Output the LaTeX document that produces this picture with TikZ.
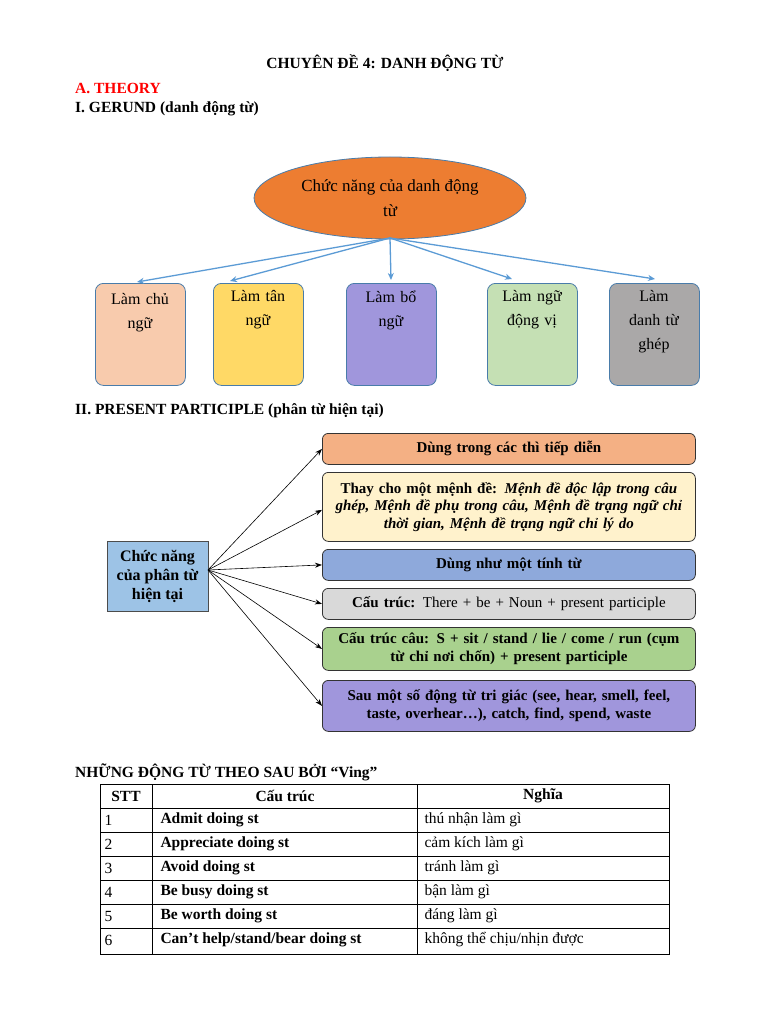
\documentclass[tikz,border=0pt]{standalone}
\usepackage{fontspec}
\setmainfont{Liberation Serif}
\usetikzlibrary{shapes.geometric,arrows.meta}
\definecolor{oran}{HTML}{ED7D31}
\definecolor{bl}{HTML}{5B9BD5}
\tikzset{
 gbox/.style={draw=bl!80!black,line width=0.8pt,rounded corners=8pt,minimum width=90pt,minimum height=102pt,anchor=north west,inner sep=0pt},
 gtxt/.style={align=center,font=\fontsize{16}{24}\selectfont,anchor=north,text width=88pt},
 barr/.style={-{Stealth[length=7pt,width=6pt]},draw=bl,line width=1.3pt},
 pbox/.style={draw=black!80,line width=0.8pt,rounded corners=6pt,minimum width=373pt,anchor=north west,align=center,text width=368pt,font=\bfseries\fontsize{15}{18}\selectfont,inner sep=0pt},
 karr/.style={-{Stealth[length=7pt,width=5pt]},line width=0.6pt},
 tt/.style={font=\fontsize{15.5}{17}\selectfont,anchor=west},
 hd/.style={font=\bfseries\fontsize{15.5}{17}\selectfont},
}
\begin{document}
\begin{tikzpicture}[x=1pt,y=-1pt]
\useasboundingbox (0,0) rectangle (768,1024);
\fill[white] (0,0) rectangle (768,1024);
\node[hd] (title) at (385,63) {CHUYÊN ĐỀ 4: DANH ĐỘNG TỪ};
\node[font=\bfseries\fontsize{15.5}{17}\selectfont,text=red,anchor=west,inner sep=0pt] (a) at (75,88) {A. THEORY};
\node[hd,anchor=west,inner sep=0pt] (g) at (75,109) {I. GERUND (danh động từ)};
% ellipse
\node[ellipse,draw=bl!80!black,fill=oran,minimum width=272pt,minimum height=82pt,align=center,font=\fontsize{17}{25}\selectfont,line width=0.8pt] (e) at (390,198) {Chức năng của danh động\\từ};
\coordinate (src) at (390,238);
\node[gbox,fill={rgb,255:red,248;green,203;blue,173}] (b1) at (95,283) {};
\node[gbox,fill={rgb,255:red,255;green,217;blue,102}] (b2) at (213,283) {};
\node[gbox,fill={rgb,255:red,160;green,150;blue,220}] (b3) at (346,283) {};
\node[gbox,fill={rgb,255:red,197;green,224;blue,180}] (b4) at (487,283) {};
\node[gbox,fill={rgb,255:red,170;green,168;blue,168}] (b5) at (609,283) {};
\node[gtxt] (t1) at (140,290) {Làm chủ\\ngữ};
\node[gtxt] (t2) at (258,287) {Làm tân\\ngữ};
\node[gtxt] (t3) at (391,287) {Làm bổ\\ngữ};
\node[gtxt] (t4) at (532,287) {Làm ngữ\\động vị};
\node[gtxt] (t5) at (654,287) {Làm\\danh từ\\ghép};
\coordinate (e1) at (137,282); \coordinate (e2) at (230,281);
\coordinate (e3) at (391,280); \coordinate (e4) at (512,279); \coordinate (e5) at (655,279);
\foreach \i in {1,...,5}{\draw[barr] (src) -- (e\i);}
% part II
\node[hd,anchor=west,inner sep=0pt] (p) at (75,411) {II. PRESENT PARTICIPLE (phân từ hiện tại)};
\node[draw=black!70,fill={rgb,255:red,157;green,195;blue,230},minimum width=101pt,minimum height=70pt,align=center,font=\bfseries\fontsize{16}{19}\selectfont,inner sep=0pt] (L) at (157.5,576) {Chức năng\\của phân từ\\hiện tại};
\node[pbox,fill={rgb,255:red,244;green,176;blue,132},minimum height=31pt] (r1) at (322,433) {Dùng trong các thì tiếp diễn};
\node[pbox,fill={rgb,255:red,255;green,242;blue,204},minimum height=69pt,font=\fontsize{15}{17.5}\selectfont] (r2) at (322,472) {\textbf{Thay cho một mệnh đề:} \textbf{\textit{Mệnh đề độc lập trong câu\\ghép, Mệnh đề phụ trong câu, Mệnh đề trạng ngữ chỉ\\thời gian, Mệnh đề trạng ngữ chỉ lý do}}};
\node[pbox,fill={rgb,255:red,142;green,169;blue,219},minimum height=31pt] (r3) at (322,549) {Dùng như một tính từ};
\node[pbox,fill={rgb,255:red,217;green,217;blue,217},minimum height=31pt,font=\fontsize{15}{18}\selectfont] (r4) at (322,588) {\textbf{Cấu trúc:} There + be + Noun + present participle};
\node[pbox,fill={rgb,255:red,169;green,209;blue,142},minimum height=43pt] (r5) at (322,627) {Cấu trúc câu: S + sit / stand / lie / come / run (cụm\\từ chỉ nơi chốn) + present participle};
\node[pbox,fill={rgb,255:red,160;green,150;blue,220},minimum height=51pt] (r6) at (322,680) {Sau một số động từ tri giác (see, hear, smell, feel,\\taste, overhear…), catch, find, spend, waste};
\coordinate (ls) at (208,570);
\draw[karr] (ls) -- (r1.west);
\draw[karr] (ls) -- ([yshift=-3pt]r2.west);
\draw[karr] (ls) -- (r3.west);
\draw[karr] (ls) -- (r4.west);
\draw[karr] (ls) -- (r5.west);
\draw[karr] (ls) -- (r6.west);
% table
\node[hd,anchor=west,inner sep=0pt] (h) at (75,772) {NHỮNG ĐỘNG TỪ THEO SAU BỞI “Ving”};
\draw[line width=0.6pt] (100,784) rectangle (669,954);
\foreach \y in {808,832,856,880,904,928} \draw[line width=0.5pt] (100,\y) -- (669,\y);
\draw[line width=0.5pt] (152,784) -- (152,954);
\draw[line width=0.5pt] (417,784) -- (417,954);
\node[hd] (c1) at (126,796) {STT};
\node[hd] (c2) at (285,796) {Cấu trúc};
\node[hd] (c3) at (543,796) {Nghĩa};
\foreach \n/\a/\b [count=\k] in {1/Admit doing st/thú nhận làm gì,2/Appreciate doing st/cảm kích làm gì,3/Avoid doing st/tránh làm gì,4/Be busy doing st/bận làm gì,5/Be worth doing st/đáng làm gì,6/Can’t help{/}stand{/}bear doing st/không thể chịu{/}nhịn được}{
 \pgfmathsetmacro\yy{808+24*\k-12}
 \node[tt] (n\k) at (101,\yy) {\n};
 \node[tt,font=\bfseries\fontsize{15.5}{17}\selectfont] (s\k) at (157,\yy) {\a};
 \node[tt] (m\k) at (421,\yy) {\b};
}
\end{tikzpicture}
\end{document}
